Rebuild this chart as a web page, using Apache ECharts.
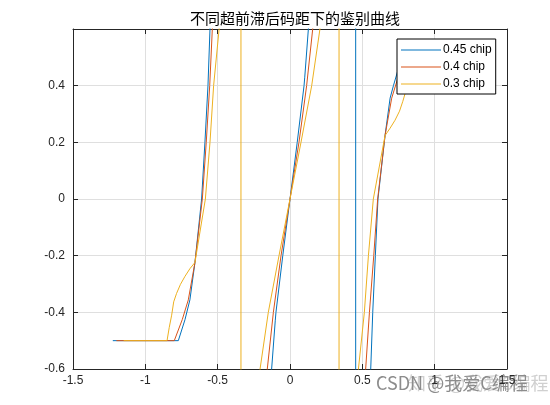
<!DOCTYPE html>
<html>
<head>
<meta charset="utf-8">
<title>鉴别曲线</title>
<script src="https://cdn.jsdelivr.net/npm/echarts@6/dist/echarts.min.js"></script>
<style>
  html, body { margin: 0; padding: 0; background: #fff; }
  #echarts { width: 550px; height: 405px; }
</style>
</head>
<body>
<div id="echarts"></div>
<script>
// 图上读出来的点 [码相位误差(chip), 鉴别输出]，null 表示断开
var names = ['0.45 chip', '0.4 chip', '0.3 chip'];
var colors = ['#0072BD', '#D95319', '#EDB120'];

var d045 = [
  [-1.225, -0.5], [-0.772, -0.5], [-0.726, -0.426], [-0.692, -0.356], [-0.657, -0.224],
  [-0.611, 0], [-0.588, 0.2], [-0.567, 0.4], [-0.553, 0.6], [-0.545, 0.75],
  null,
  [-0.145, -0.75], [-0.127, -0.6], [-0.102, -0.43], [-0.097, -0.4], [-0.05, -0.2],
  [0, 0], [0.05, 0.2], [0.097, 0.4], [0.102, 0.43], [0.127, 0.6], [0.145, 0.75],
  [0.454, 20], [0.454, -20],
  [0.545, -0.75], [0.558, -0.6], [0.572, -0.4], [0.59, -0.2], [0.608, 0],
  [0.657, 0.224], [0.692, 0.356], [0.715, 0.4], [0.772, 0.5], [1.225, 0.5]
];
var d04 = [
  [-1.2, -0.5], [-0.8, -0.5], [-0.745, -0.426], [-0.703, -0.356], [-0.657, -0.224],
  [-0.606, 0], [-0.579, 0.2], [-0.555, 0.4], [-0.537, 0.6], [-0.528, 0.75],
  null,
  [-0.17, -0.75], [-0.157, -0.6], [-0.115, -0.4], [-0.062, -0.2],
  [0, 0], [0.062, 0.2], [0.115, 0.4], [0.157, 0.6], [0.17, 0.75],
  null,
  [0.51, -0.75], [0.523, -0.6], [0.549, -0.4], [0.579, -0.2], [0.606, 0],
  [0.657, 0.224], [0.703, 0.356], [0.745, 0.426], [0.8, 0.5], [1.2, 0.5]
];
var d03 = [
  [-1.15, -0.5], [-0.85, -0.5], [-0.835, -0.454], [-0.818, -0.41], [-0.804, -0.363],
  [-0.784, -0.333], [-0.757, -0.301], [-0.726, -0.273], [-0.692, -0.246], [-0.657, -0.224],
  [-0.585, 0], [-0.553, 0.2], [-0.528, 0.4], [-0.49, 0.6], [-0.47, 0.75],
  [-0.339, 20], [-0.339, -20],
  [-0.225, -0.75], [-0.207, -0.6], [-0.15, -0.4], [-0.076, -0.2],
  [0, 0], [0.076, 0.2], [0.15, 0.4], [0.207, 0.6], [0.225, 0.75],
  [0.339, 20], [0.339, -20],
  [0.46, -0.75], [0.473, -0.6], [0.514, -0.4], [0.542, -0.2], [0.576, 0],
  [0.657, 0.224], [0.692, 0.25], [0.726, 0.278], [0.757, 0.31], [0.78, 0.345],
  [0.8, 0.38], [0.82, 0.425], [0.85, 0.5], [1.15, 0.5]
];
var seriesData = [d045, d04, d03];

// 坐标轴刻度
var xTicks = { min: -1.5, max: 1.5, interval: 0.5 };
var yTicks = { min: -0.6, max: 0.6, interval: 0.2 };

var myChart = echarts.init(document.getElementById('echarts'));

var axisColor = '#262626';
var font = 'Liberation Sans, Arial, Helvetica, sans-serif';

function boxAxis(pos, t, showLabel) {
  return {
    type: 'value',
    position: pos,
    min: t.min, max: t.max, interval: t.interval,
    axisLine: { show: true, onZero: false, lineStyle: { color: axisColor, width: 1 } },
    axisTick: { show: true, inside: true, length: 5, lineStyle: { color: axisColor } },
    axisLabel: {
      show: showLabel,
      color: axisColor,
      fontSize: 12,
      fontFamily: font,
      margin: pos === 'bottom' ? 6 : 8,
      formatter: function (v) {
        if (pos === 'left' && v > 0.59) return '';
        return String(Math.round(v * 10) / 10);
      }
    },
    splitLine: { show: showLabel, lineStyle: { color: '#dfdfdf', width: 1 } }
  };
}

var option = {
  animation: false,
  backgroundColor: '#fff',
  title: {
    text: '不同超前滞后码距下的鉴别曲线',
    left: 290, textAlign: 'center', top: 6,
    textStyle: { fontSize: 15, fontWeight: 'normal', color: '#000', fontFamily: 'Noto Sans CJK SC' }
  },
  grid: { left: 73, right: 43, top: 29, bottom: 36 },
  legend: {
    data: names,
    orient: 'vertical',
    left: 397, top: 39,
    padding: [5, 4, 4, 4],
    itemGap: 5,
    icon: 'rect',
    itemWidth: 40, itemHeight: 1,
    borderColor: '#000', borderWidth: 1,
    backgroundColor: '#fff',
    textStyle: { fontSize: 12, color: '#000', fontFamily: font, padding: [0, 0, 0, -3] }
  },
  xAxis: [boxAxis('bottom', xTicks, true), boxAxis('top', xTicks, false)],
  yAxis: [boxAxis('left', yTicks, true), boxAxis('right', yTicks, false)],
  series: names.map(function (n, i) {
    return {
      name: n,
      type: 'line',
      xAxisIndex: 0, yAxisIndex: 0,
      data: seriesData[i],
      symbol: 'none',
      showSymbol: false,
      connectNulls: false,
      clip: true,
      color: colors[i],
      lineStyle: { width: 1, color: colors[i] }
    };
  }),
  // 水印
  graphic: [
    { type: 'text', left: 408, top: 374, style: { text: '知乎 @我爱C编程', fontSize: 18, fill: '#d0d0d0', fontFamily: 'Noto Sans CJK SC' } },
    { type: 'text', left: 376, top: 374, style: { text: 'CSDN @我爱C编程', fontSize: 18, fill: '#8c8c8c', fontFamily: 'Noto Sans CJK SC' } }
  ]
};

myChart.setOption(option);
</script>
</body>
</html>
